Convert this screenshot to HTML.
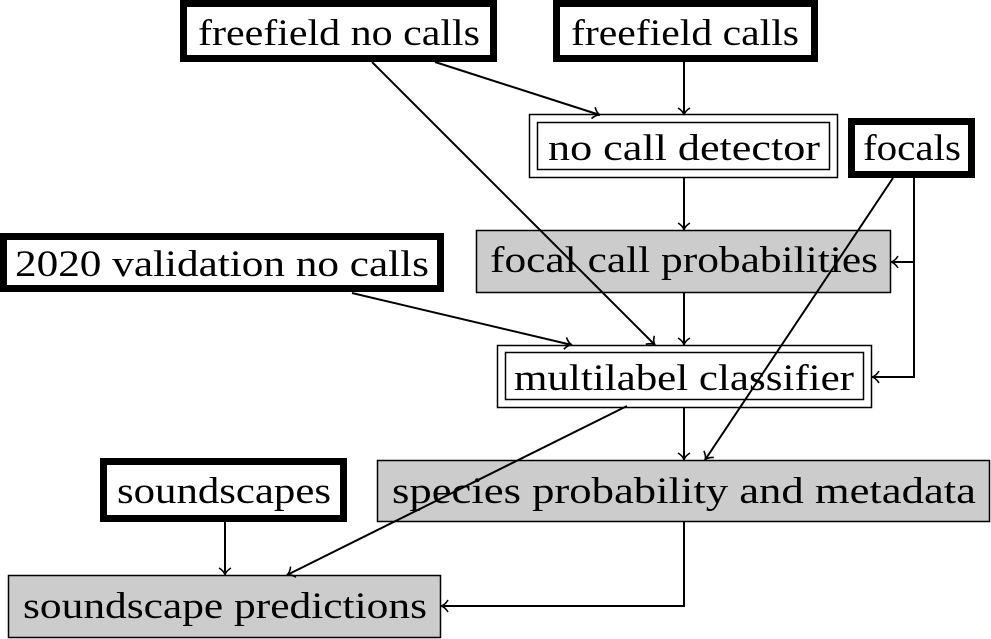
<!DOCTYPE html>
<html><head><meta charset="utf-8"><style>html,body{margin:0;padding:0;background:#fff}svg{display:block}text{font-family:"Liberation Serif",serif;font-size:37px;fill:#000;text-anchor:middle}</style></head><body>
<svg width="991" height="639" viewBox="0 0 991 639" xmlns="http://www.w3.org/2000/svg">
<defs><marker id="a" markerWidth="14" markerHeight="14" refX="10" refY="7" orient="auto" markerUnits="userSpaceOnUse"><path d="M3,1 Q6,6 10,7 Q6,8 3,13" fill="none" stroke="#000" stroke-width="1.6"/></marker></defs>
<g fill="#fff" stroke="#000">
<rect x="183.5" y="3.5" width="310" height="55" stroke-width="7"/>
<rect x="556.5" y="3.5" width="258" height="55" stroke-width="7"/>
<rect x="529.5" y="114.5" width="308" height="63" stroke-width="1.5"/>
<rect x="537.5" y="122.5" width="292" height="47" stroke-width="1.5"/>
<rect x="851.5" y="121.5" width="120" height="53" stroke-width="7"/>
<rect x="3.5" y="236.5" width="437" height="52" stroke-width="7"/>
<rect x="476.5" y="230.5" width="414" height="62" fill="#cccccc" stroke-width="1.5"/>
<rect x="497.5" y="345.5" width="374" height="62" stroke-width="1.5"/>
<rect x="505.5" y="352.5" width="358" height="47" stroke-width="1.5"/>
<rect x="103.5" y="461.5" width="240" height="57" stroke-width="7"/>
<rect x="377.5" y="460.5" width="612" height="61" fill="#cccccc" stroke-width="1.5"/>
<rect x="8.5" y="575.5" width="432" height="62" fill="#cccccc" stroke-width="1.5"/>
</g>
<g stroke="#000" stroke-width="2" fill="none" marker-end="url(#a)">
<line x1="435" y1="62" x2="600" y2="115"/>
<line x1="372" y1="62" x2="655" y2="345"/>
<line x1="684" y1="62" x2="684" y2="115"/>
<line x1="684" y1="178" x2="684" y2="230"/>
<polyline points="914,178 914,262 891,262"/>
<polyline points="914,262 914,377 872,377"/>
<line x1="893" y1="178" x2="705" y2="460"/>
<line x1="352" y1="293" x2="572" y2="345"/>
<line x1="684" y1="293" x2="684" y2="345"/>
<line x1="684" y1="408" x2="684" y2="460"/>
<line x1="627" y1="406" x2="287" y2="575"/>
<line x1="225" y1="522" x2="225" y2="575"/>
<polyline points="684,522 684,606 441,606"/>
</g>
<text x="339" y="45" textLength="282" lengthAdjust="spacingAndGlyphs">freefield no calls</text>
<text x="685" y="45" textLength="228" lengthAdjust="spacingAndGlyphs">freefield calls</text>
<text x="684" y="160" textLength="272" lengthAdjust="spacingAndGlyphs">no call detector</text>
<text x="912" y="160" textLength="98" lengthAdjust="spacingAndGlyphs">focals</text>
<text x="222" y="276" textLength="414" lengthAdjust="spacingAndGlyphs">2020 validation no calls</text>
<text x="684" y="272" textLength="388" lengthAdjust="spacingAndGlyphs">focal call probabilities</text>
<text x="684" y="390" textLength="340" lengthAdjust="spacingAndGlyphs">multilabel classifier</text>
<text x="224" y="503" textLength="214" lengthAdjust="spacingAndGlyphs">soundscapes</text>
<text x="684" y="503" textLength="584" lengthAdjust="spacingAndGlyphs">species probability and metadata</text>
<text x="225" y="618" textLength="404" lengthAdjust="spacingAndGlyphs">soundscape predictions</text>
</svg>
</body></html>
